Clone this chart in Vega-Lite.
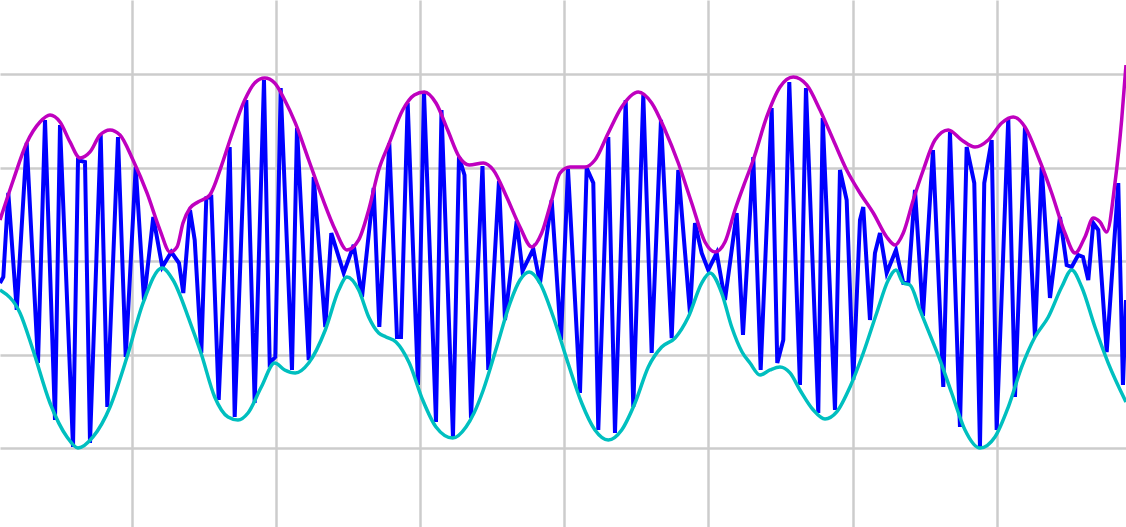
{
  "$schema": "https://vega.github.io/schema/vega-lite/v6.json",
  "width": 1126,
  "height": 527,
  "padding": 0,
  "autosize": {"type": "fit", "contains": "padding"},
  "background": "white",
  "config": {
    "view": {"stroke": null},
    "axis": {"domain": false, "ticks": false, "labels": false, "title": null, "grid": true, "gridColor": "#cccccc", "gridWidth": 2.5, "gridOpacity": 1}
  },
  "datasets": {
    "signal": [
      {"t": -0.9135, "v": -0.233}, {"t": -0.8906, "v": -0.169}, {"t": -0.8559, "v": 0.729}, {"t": -0.7976, "v": -0.521},
      {"t": -0.7283, "v": 1.263}, {"t": -0.6499, "v": -1.088}, {"t": -0.6013, "v": 1.509}, {"t": -0.532, "v": -1.697},
      {"t": -0.4973, "v": 1.455}, {"t": -0.4071, "v": -1.985}, {"t": -0.3725, "v": 1.081}, {"t": -0.3239, "v": 1.06},
      {"t": -0.2892, "v": -1.942}, {"t": -0.215, "v": 1.348}, {"t": -0.1692, "v": -1.558}, {"t": -0.095, "v": 1.327},
      {"t": -0.0416, "v": -1.024}, {"t": 0.0277, "v": 1.006}, {"t": 0.0853, "v": -0.415}, {"t": 0.1498, "v": 0.472},
      {"t": 0.2122, "v": -0.062}, {"t": 0.2747, "v": 0.098}, {"t": 0.3281, "v": -0.019}, {"t": 0.3579, "v": -0.34},
      {"t": 0.4044, "v": 0.547}, {"t": 0.437, "v": 0.227}, {"t": 0.4827, "v": -0.981}, {"t": 0.5174, "v": 0.675},
      {"t": 0.5521, "v": 0.686}, {"t": 0.6034, "v": -1.483}, {"t": 0.6797, "v": 1.22}, {"t": 0.7144, "v": -1.665},
      {"t": 0.7949, "v": 1.722}, {"t": 0.8531, "v": -1.515}, {"t": 0.9176, "v": 1.936}, {"t": 0.9572, "v": -1.088},
      {"t": 0.996, "v": -1.024}, {"t": 1.0335, "v": 1.85}, {"t": 1.1118, "v": -1.162}, {"t": 1.1465, "v": 1.423},
      {"t": 1.2277, "v": -1.056}, {"t": 1.2624, "v": 0.9}, {"t": 1.3428, "v": -0.703}, {"t": 1.3844, "v": 0.301},
      {"t": 1.4704, "v": -0.126}, {"t": 1.5398, "v": 0.173}, {"t": 1.5974, "v": -0.382}, {"t": 1.6785, "v": 0.782},
      {"t": 1.7174, "v": -0.703}, {"t": 1.7867, "v": 1.263}, {"t": 1.8401, "v": -0.81}, {"t": 1.8679, "v": -0.81},
      {"t": 1.9143, "v": 1.69}, {"t": 1.9858, "v": -1.323}, {"t": 2.0274, "v": 1.808}, {"t": 2.1106, "v": -1.718},
      {"t": 2.1488, "v": 1.615}, {"t": 2.2285, "v": -1.878}, {"t": 2.2702, "v": 1.113}, {"t": 2.3083, "v": 0.921},
      {"t": 2.3534, "v": -1.675}, {"t": 2.4331, "v": 1.017}, {"t": 2.4734, "v": -1.162}, {"t": 2.5476, "v": 0.857},
      {"t": 2.5892, "v": -0.628}, {"t": 2.6704, "v": 0.43}, {"t": 2.7106, "v": -0.105}, {"t": 2.7855, "v": 0.13},
      {"t": 2.832, "v": -0.233}, {"t": 2.9131, "v": 0.654}, {"t": 2.9776, "v": -0.842}, {"t": 3.0262, "v": 0.985},
      {"t": 3.1094, "v": -1.408}, {"t": 3.1559, "v": 0.996}, {"t": 3.2017, "v": 0.835}, {"t": 3.2363, "v": -1.803},
      {"t": 3.3057, "v": 1.327}, {"t": 3.3522, "v": -1.836}, {"t": 3.4264, "v": 1.722}, {"t": 3.4791, "v": -1.558},
      {"t": 3.5485, "v": 1.776}, {"t": 3.6067, "v": -0.981}, {"t": 3.6712, "v": 1.509}, {"t": 3.7454, "v": -0.821},
      {"t": 3.7912, "v": 0.974}, {"t": 3.8724, "v": -0.553}, {"t": 3.9071, "v": 0.408}, {"t": 3.9535, "v": 0.088},
      {"t": 3.9993, "v": -0.094}, {"t": 4.0576, "v": 0.088}, {"t": 4.1151, "v": -0.415}, {"t": 4.1963, "v": 0.515},
      {"t": 4.24, "v": -0.788}, {"t": 4.3114, "v": 1.113}, {"t": 4.3627, "v": -1.162}, {"t": 4.439, "v": 1.637},
      {"t": 4.4779, "v": -1.088}, {"t": 4.5195, "v": -0.842}, {"t": 4.5611, "v": 1.915}, {"t": 4.6353, "v": -1.323},
      {"t": 4.6769, "v": 1.85}, {"t": 4.7623, "v": -1.622}, {"t": 4.7928, "v": 1.53}, {"t": 4.8781, "v": -1.59},
      {"t": 4.9128, "v": 0.974}, {"t": 4.9592, "v": 0.654}, {"t": 5.005, "v": -1.269}, {"t": 5.0515, "v": 0.44},
      {"t": 5.0744, "v": 0.579}, {"t": 5.1208, "v": -0.628}, {"t": 5.1555, "v": 0.088}, {"t": 5.1902, "v": 0.301},
      {"t": 5.2367, "v": -0.126}, {"t": 5.3012, "v": 0.12}, {"t": 5.3518, "v": -0.233}, {"t": 5.3865, "v": -0.233},
      {"t": 5.433, "v": 0.761}, {"t": 5.4885, "v": -0.585}, {"t": 5.5578, "v": 1.188}, {"t": 5.6292, "v": -1.344},
      {"t": 5.6757, "v": 1.38}, {"t": 5.7451, "v": -1.771}, {"t": 5.7915, "v": 1.22}, {"t": 5.8443, "v": 0.835},
      {"t": 5.8838, "v": -1.985}, {"t": 5.9136, "v": 0.835}, {"t": 5.965, "v": 1.295}, {"t": 5.9996, "v": -1.803},
      {"t": 6.0801, "v": 1.53}, {"t": 6.1266, "v": -1.451}, {"t": 6.196, "v": 1.434}, {"t": 6.2653, "v": -0.81},
      {"t": 6.3119, "v": 1.006}, {"t": 6.3694, "v": -0.393}, {"t": 6.4388, "v": 0.472}, {"t": 6.4853, "v": -0.041},
      {"t": 6.52, "v": -0.062}, {"t": 6.5652, "v": 0.066}, {"t": 6.5983, "v": 0.045}, {"t": 6.635, "v": -0.201},
      {"t": 6.6697, "v": 0.408}, {"t": 6.7044, "v": 0.333}, {"t": 6.7628, "v": -0.97}, {"t": 6.843, "v": 0.835},
      {"t": 6.8757, "v": -1.323}, {"t": 6.8966, "v": -0.415}
    ],
    "upper": [
      {"t": -0.9135, "v": 0.44}, {"t": -0.8212, "v": 0.868}, {"t": -0.7283, "v": 1.263}, {"t": -0.636, "v": 1.487},
      {"t": -0.5667, "v": 1.562}, {"t": -0.4973, "v": 1.487}, {"t": -0.428, "v": 1.274}, {"t": -0.3586, "v": 1.103},
      {"t": -0.2892, "v": 1.167}, {"t": -0.2199, "v": 1.348}, {"t": -0.1505, "v": 1.402}, {"t": -0.0812, "v": 1.348},
      {"t": 0.009, "v": 1.081}, {"t": 0.1061, "v": 0.729}, {"t": 0.1963, "v": 0.333}, {"t": 0.2656, "v": 0.098},
      {"t": 0.3142, "v": 0.152}, {"t": 0.3558, "v": 0.408}, {"t": 0.4044, "v": 0.568}, {"t": 0.4599, "v": 0.633},
      {"t": 0.541, "v": 0.707}, {"t": 0.6194, "v": 1.006}, {"t": 0.6887, "v": 1.327}, {"t": 0.7838, "v": 1.722},
      {"t": 0.8531, "v": 1.904}, {"t": 0.9225, "v": 1.957}, {"t": 0.9918, "v": 1.904}, {"t": 1.0612, "v": 1.722},
      {"t": 1.1347, "v": 1.477}, {"t": 1.2277, "v": 1.081}, {"t": 1.3199, "v": 0.686}, {"t": 1.4122, "v": 0.333},
      {"t": 1.4933, "v": 0.12}, {"t": 1.5745, "v": 0.227}, {"t": 1.6438, "v": 0.547}, {"t": 1.7132, "v": 0.974},
      {"t": 1.7867, "v": 1.263}, {"t": 1.8797, "v": 1.615}, {"t": 1.9601, "v": 1.776}, {"t": 2.0295, "v": 1.808},
      {"t": 2.1106, "v": 1.69}, {"t": 2.1917, "v": 1.402}, {"t": 2.2722, "v": 1.113}, {"t": 2.3416, "v": 1.028},
      {"t": 2.4387, "v": 1.049}, {"t": 2.5081, "v": 0.974}, {"t": 2.601, "v": 0.686}, {"t": 2.6933, "v": 0.365},
      {"t": 2.7744, "v": 0.152}, {"t": 2.8438, "v": 0.301}, {"t": 2.9131, "v": 0.654}, {"t": 2.9706, "v": 0.942},
      {"t": 3.04, "v": 1.006}, {"t": 3.144, "v": 1.006}, {"t": 3.2133, "v": 1.081}, {"t": 3.3057, "v": 1.37},
      {"t": 3.3987, "v": 1.648}, {"t": 3.5139, "v": 1.808}, {"t": 3.6067, "v": 1.69}, {"t": 3.6991, "v": 1.402},
      {"t": 3.7912, "v": 1.049}, {"t": 3.8843, "v": 0.622}, {"t": 3.9764, "v": 0.205}, {"t": 4.0458, "v": 0.098},
      {"t": 4.1151, "v": 0.205}, {"t": 4.1845, "v": 0.547}, {"t": 4.254, "v": 0.846}, {"t": 4.3114, "v": 1.081},
      {"t": 4.4045, "v": 1.541}, {"t": 4.4967, "v": 1.861}, {"t": 4.589, "v": 1.968}, {"t": 4.682, "v": 1.883},
      {"t": 4.7742, "v": 1.615}, {"t": 4.8665, "v": 1.295}, {"t": 4.9592, "v": 0.974}, {"t": 5.0515, "v": 0.729},
      {"t": 5.1439, "v": 0.515}, {"t": 5.2367, "v": 0.259}, {"t": 5.2942, "v": 0.173}, {"t": 5.3518, "v": 0.301},
      {"t": 5.4211, "v": 0.654}, {"t": 5.4905, "v": 0.974}, {"t": 5.5716, "v": 1.295}, {"t": 5.6638, "v": 1.402},
      {"t": 5.7568, "v": 1.295}, {"t": 5.849, "v": 1.22}, {"t": 5.9413, "v": 1.295}, {"t": 6.0343, "v": 1.477},
      {"t": 6.1147, "v": 1.541}, {"t": 6.196, "v": 1.434}, {"t": 6.2881, "v": 1.113}, {"t": 6.3812, "v": 0.729},
      {"t": 6.4733, "v": 0.301}, {"t": 6.543, "v": 0.088}, {"t": 6.612, "v": 0.259}, {"t": 6.6697, "v": 0.462},
      {"t": 6.7164, "v": 0.419}, {"t": 6.7628, "v": 0.312}, {"t": 6.8203, "v": 0.835}, {"t": 6.8666, "v": 1.509},
      {"t": 6.8966, "v": 2.096}
    ],
    "lower": [
      {"t": -0.9135, "v": -0.308}, {"t": -0.7748, "v": -0.553}, {"t": -0.6846, "v": -0.949}, {"t": -0.5667, "v": -1.515},
      {"t": -0.4488, "v": -1.878}, {"t": -0.3725, "v": -1.996}, {"t": -0.2684, "v": -1.878}, {"t": -0.1505, "v": -1.558},
      {"t": -0.0326, "v": -1.024}, {"t": 0.0784, "v": -0.447}, {"t": 0.2102, "v": -0.073}, {"t": 0.2865, "v": -0.201},
      {"t": 0.4044, "v": -0.65}, {"t": 0.4807, "v": -0.981}, {"t": 0.5757, "v": -1.451}, {"t": 0.668, "v": -1.665},
      {"t": 0.7373, "v": -1.697}, {"t": 0.8067, "v": -1.622}, {"t": 0.8989, "v": -1.344}, {"t": 0.9919, "v": -1.088},
      {"t": 1.0612, "v": -1.162}, {"t": 1.1347, "v": -1.194}, {"t": 1.2277, "v": -1.088}, {"t": 1.3428, "v": -0.735},
      {"t": 1.4358, "v": -0.308}, {"t": 1.4933, "v": -0.169}, {"t": 1.5745, "v": -0.308}, {"t": 1.6438, "v": -0.596},
      {"t": 1.7132, "v": -0.767}, {"t": 1.7639, "v": -0.81}, {"t": 1.8332, "v": -0.863}, {"t": 1.9255, "v": -1.088},
      {"t": 2.0184, "v": -1.483}, {"t": 2.1106, "v": -1.771}, {"t": 2.2265, "v": -1.889}, {"t": 2.3188, "v": -1.771},
      {"t": 2.3743, "v": -1.622}, {"t": 2.4387, "v": -1.376}, {"t": 2.5317, "v": -0.917}, {"t": 2.624, "v": -0.447},
      {"t": 2.6933, "v": -0.201}, {"t": 2.7578, "v": -0.115}, {"t": 2.832, "v": -0.233}, {"t": 2.9243, "v": -0.596},
      {"t": 3.0262, "v": -1.088}, {"t": 3.1213, "v": -1.515}, {"t": 3.2133, "v": -1.803}, {"t": 3.3057, "v": -1.91},
      {"t": 3.3987, "v": -1.803}, {"t": 3.4911, "v": -1.515}, {"t": 3.5833, "v": -1.13}, {"t": 3.6762, "v": -0.917},
      {"t": 3.7684, "v": -0.821}, {"t": 3.8608, "v": -0.596}, {"t": 3.9535, "v": -0.233}, {"t": 4.0112, "v": -0.126},
      {"t": 4.0924, "v": -0.34}, {"t": 4.1618, "v": -0.703}, {"t": 4.2335, "v": -0.97}, {"t": 4.2887, "v": -1.088},
      {"t": 4.3581, "v": -1.216}, {"t": 4.4275, "v": -1.162}, {"t": 4.4967, "v": -1.13}, {"t": 4.5662, "v": -1.194},
      {"t": 4.6353, "v": -1.376}, {"t": 4.7278, "v": -1.59}, {"t": 4.8089, "v": -1.686}, {"t": 4.8901, "v": -1.611},
      {"t": 4.9823, "v": -1.344}, {"t": 5.0744, "v": -0.981}, {"t": 5.1675, "v": -0.553}, {"t": 5.248, "v": -0.201},
      {"t": 5.3012, "v": -0.094}, {"t": 5.3518, "v": -0.233}, {"t": 5.3985, "v": -0.254}, {"t": 5.4678, "v": -0.521},
      {"t": 5.5372, "v": -0.788}, {"t": 5.6066, "v": -1.056}, {"t": 5.6877, "v": -1.408}, {"t": 5.78, "v": -1.803},
      {"t": 5.8838, "v": -1.996}, {"t": 5.9877, "v": -1.878}, {"t": 6.0801, "v": -1.558}, {"t": 6.1732, "v": -1.13},
      {"t": 6.2653, "v": -0.81}, {"t": 6.3578, "v": -0.596}, {"t": 6.4505, "v": -0.276}, {"t": 6.52, "v": -0.094},
      {"t": 6.5894, "v": -0.276}, {"t": 6.6813, "v": -0.703}, {"t": 6.7735, "v": -1.088}, {"t": 6.8966, "v": -1.504}
    ]
  },
  "encoding": {
    "x": {"field": "t", "type": "quantitative", "scale": {"domain": [-0.9135, 6.8967], "nice": false, "zero": false}, "axis": {"values": [0, 1, 2, 3, 4, 5, 6]}},
    "y": {"field": "v", "type": "quantitative", "scale": {"domain": [-2.8397, 2.7906], "nice": false, "zero": false}, "axis": {"values": [-2, -1, 0, 1, 2]}}
  },
  "layer": [
    {"data": {"name": "signal"}, "mark": {"type": "line", "color": "#0000ff", "strokeWidth": 4, "clip": true}},
    {"data": {"name": "upper"}, "mark": {"type": "line", "color": "#bf00bf", "strokeWidth": 3.5, "interpolate": "monotone", "clip": true}},
    {"data": {"name": "lower"}, "mark": {"type": "line", "color": "#00bfbf", "strokeWidth": 3.5, "interpolate": "monotone", "clip": true}}
  ]
}
